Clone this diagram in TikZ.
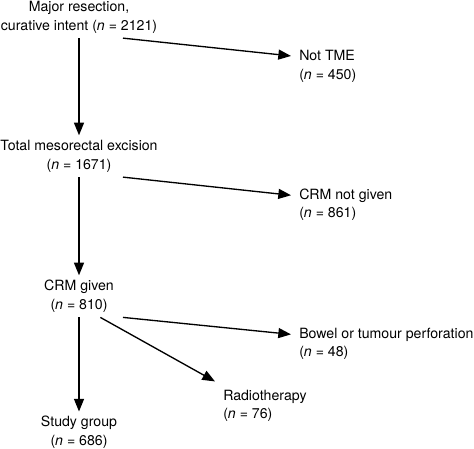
\documentclass[tikz,border=0pt]{standalone}
\usepackage{fontspec}
\setmainfont{TeX Gyre Heros}
\usetikzlibrary{arrows.meta}
\tikzset{
	flow/.style={-{Triangle[length=9.5pt,width=7.5pt]}, line width=1pt},
	stage/.style={anchor=north, align=center, inner sep=3.5pt, font=\fontsize{10.6}{14}\selectfont},
	drop/.style={anchor=base west, inner sep=6pt, font=\fontsize{10.6}{14}\selectfont},
}
\begin{document}
\begin{tikzpicture}[x=0.75pt,y=0.75pt,yscale=-1,xscale=1]
	\useasboundingbox (0,0) rectangle (474,449);

	% Text Node
	\node [stage] (major) at (79,-3.7) {Major resection,\\curative intent (\textit{n} = 2121)};
	% Text Node
	\node [stage] (tme) at (79,135.3) {Total mesorectal excision\\(\textit{n} = 1671)};
	% Text Node
	\node [stage] (crm) at (79,275.3) {CRM given\\(\textit{n} = 810)};
	% Text Node
	\node [stage] (study) at (79,411.5) {Study group\\(\textit{n} = 686)};

	% Text Node
	\node [drop] (nottme) at (291,61) {Not TME};
	\node [drop] (nottmeN) at ([yshift=14pt]nottme.base west) {(\textit{n} = 450)};
	% Text Node
	\node [drop] (crmnot) at (291,199) {CRM not given};
	\node [drop] (crmnotN) at ([yshift=14pt]crmnot.base west) {(\textit{n} = 861)};
	% Text Node
	\node [drop] (bowel) at (291,338) {Bowel or tumour perforation};
	\node [drop] (bowelN) at ([yshift=14pt]bowel.base west) {(\textit{n} = 48)};
	% Text Node
	\node [drop] (radio) at (215,400) {Radiotherapy};
	\node [drop] (radioN) at ([yshift=14pt]radio.base west) {(\textit{n} = 76)};

	%Straight Lines
	\draw [flow] (major) -- (tme);
	\draw [flow] ([xshift=33pt]major.south) -- (nottme.west);
	%Straight Lines
	\draw [flow] (tme) -- (crm);
	\draw [flow] ([xshift=33pt]tme.south) -- (crmnot.west);
	%Straight Lines
	\draw [flow] (crm) -- (study);
	\draw [flow] ([xshift=33pt]crm.south) -- (bowel.west);
	\draw [flow] ([xshift=16pt]crm.south) -- (radio.north west);

\end{tikzpicture}
\end{document}
